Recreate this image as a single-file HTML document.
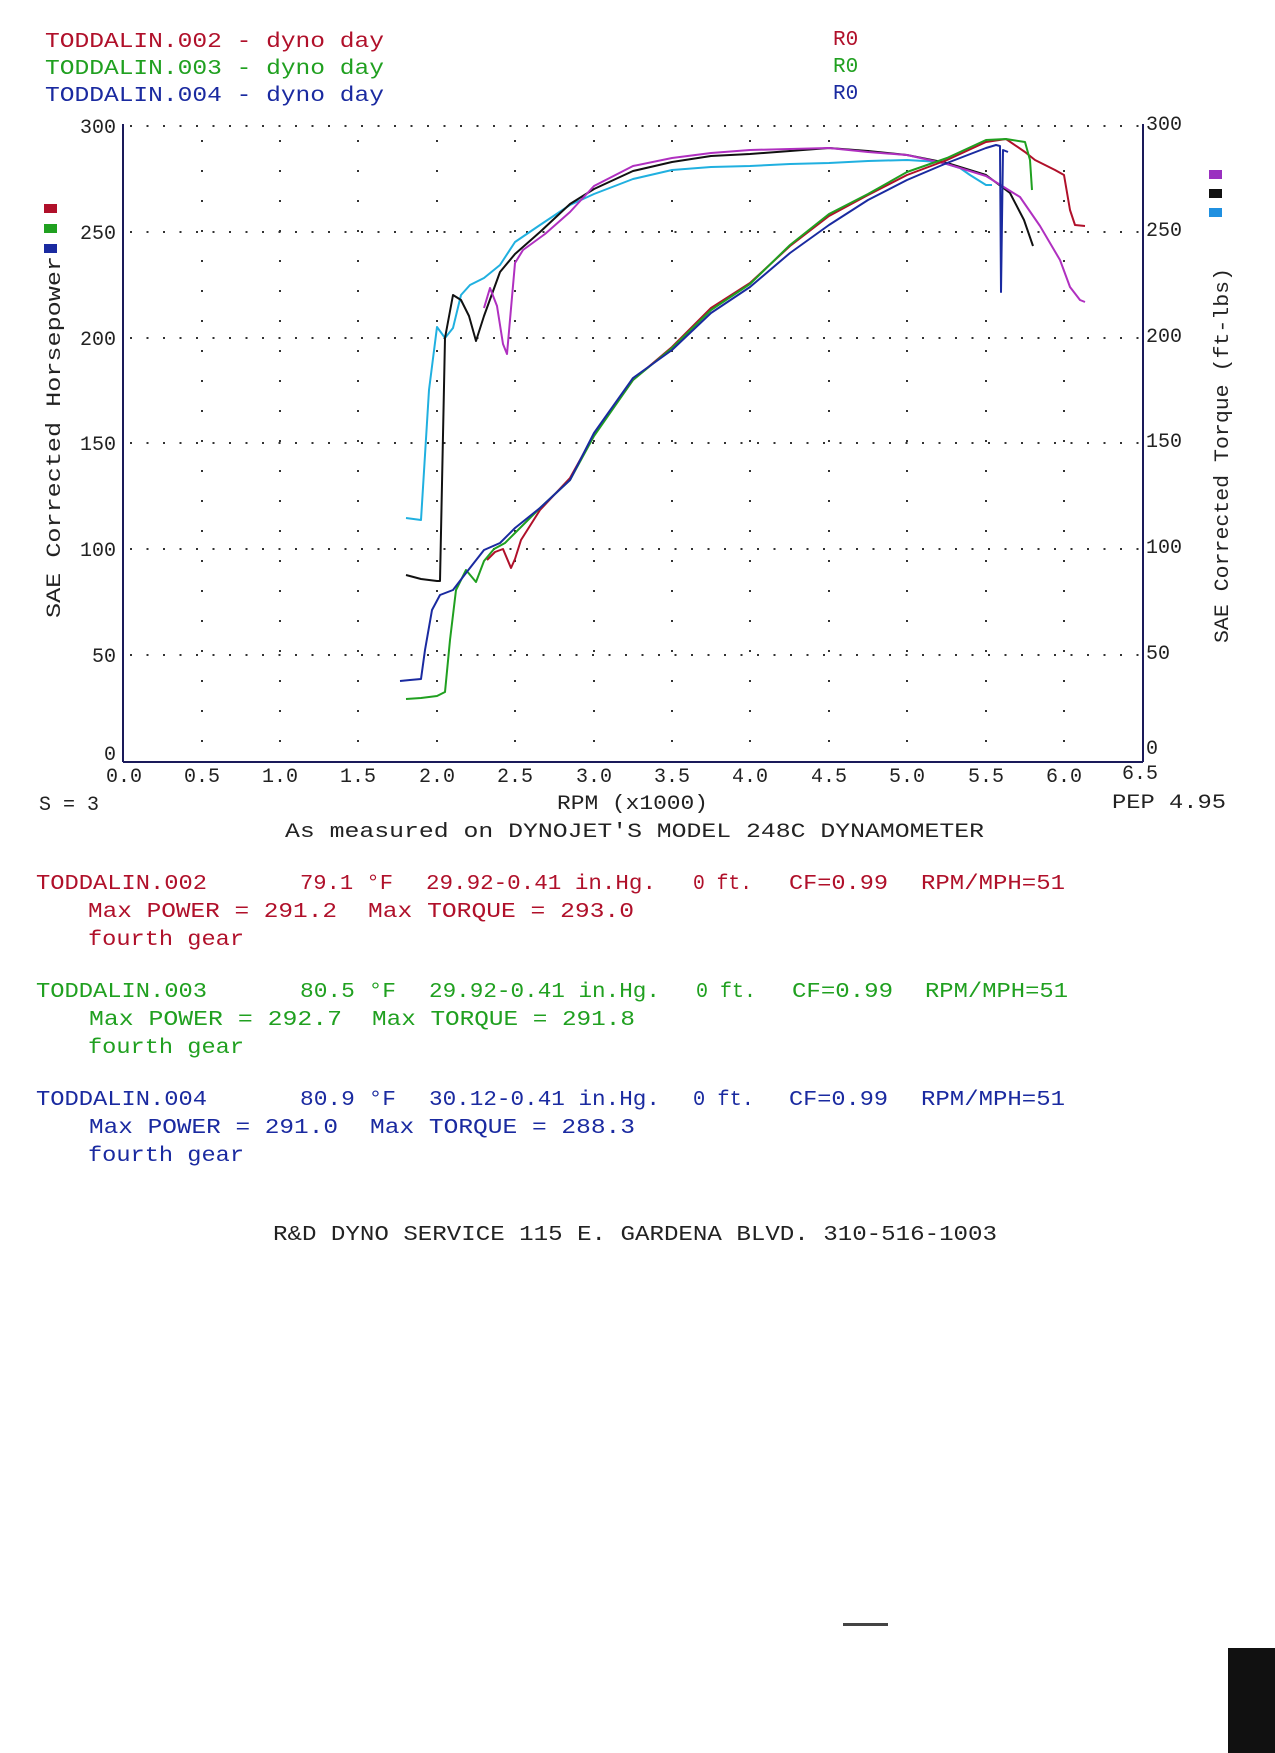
<!DOCTYPE html>
<html><head><meta charset="utf-8"><style>
html,body{margin:0;padding:0;background:#fff;}
svg{display:block;font-family:"Liberation Mono",monospace;}
svg text{white-space:pre;}
</style></head><body>
<svg width="1275" height="1753" viewBox="0 0 1275 1753" xmlns="http://www.w3.org/2000/svg">
<rect width="1275" height="1753" fill="#fff"/>
<g font-size="21">
<text x="45" y="47" fill="#b0102a" textLength="339" lengthAdjust="spacingAndGlyphs">TODDALIN.002 - dyno day</text>
<text x="45" y="74" fill="#20a020" textLength="339" lengthAdjust="spacingAndGlyphs">TODDALIN.003 - dyno day</text>
<text x="45" y="101" fill="#1a2aa0" textLength="339" lengthAdjust="spacingAndGlyphs">TODDALIN.004 - dyno day</text>
<text x="833" y="45" fill="#b0102a">R0</text>
<text x="833" y="72" fill="#20a020">R0</text>
<text x="833" y="99" fill="#1a2aa0">R0</text>
</g>
<g stroke="#333" stroke-width="2" stroke-dasharray="2 14.5" fill="none">
<line x1="130" y1="126" x2="1140" y2="126"/>
<line x1="130" y1="232" x2="1140" y2="232"/>
<line x1="130" y1="338" x2="1140" y2="338"/>
<line x1="130" y1="443" x2="1140" y2="443"/>
<line x1="130" y1="549" x2="1140" y2="549"/>
<line x1="130" y1="655" x2="1140" y2="655"/>
</g>
<g stroke="#333" stroke-width="2" stroke-dasharray="2 28" fill="none">
<line x1="202" y1="140" x2="202" y2="755"/>
<line x1="280" y1="140" x2="280" y2="755"/>
<line x1="358" y1="140" x2="358" y2="755"/>
<line x1="437" y1="140" x2="437" y2="755"/>
<line x1="515" y1="140" x2="515" y2="755"/>
<line x1="594" y1="140" x2="594" y2="755"/>
<line x1="672" y1="140" x2="672" y2="755"/>
<line x1="750" y1="140" x2="750" y2="755"/>
<line x1="829" y1="140" x2="829" y2="755"/>
<line x1="907" y1="140" x2="907" y2="755"/>
<line x1="986" y1="140" x2="986" y2="755"/>
<line x1="1064" y1="140" x2="1064" y2="755"/>
</g>
<g stroke="#1a1a5a" stroke-width="2" fill="none">
<line x1="123" y1="124" x2="123" y2="762"/>
<line x1="123" y1="762" x2="1143" y2="762"/>
<line x1="1143" y1="124" x2="1143" y2="762"/>
</g>
<g font-size="20" fill="#222">
<text x="116" y="133" text-anchor="end">300</text>
<text x="116" y="239" text-anchor="end">250</text>
<text x="116" y="345" text-anchor="end">200</text>
<text x="116" y="450" text-anchor="end">150</text>
<text x="116" y="556" text-anchor="end">100</text>
<text x="116" y="662" text-anchor="end">50</text>
<text x="116" y="760" text-anchor="end">0</text>
<text x="1146" y="130">300</text>
<text x="1146" y="236">250</text>
<text x="1146" y="342">200</text>
<text x="1146" y="447">150</text>
<text x="1146" y="553">100</text>
<text x="1146" y="659">50</text>
<text x="1146" y="754">0</text>
<g text-anchor="middle">
<text x="124" y="782">0.0</text><text x="202" y="782">0.5</text><text x="280" y="782">1.0</text>
<text x="358" y="782">1.5</text><text x="437" y="782">2.0</text><text x="515" y="782">2.5</text>
<text x="594" y="782">3.0</text><text x="672" y="782">3.5</text><text x="750" y="782">4.0</text>
<text x="829" y="782">4.5</text><text x="907" y="782">5.0</text><text x="986" y="782">5.5</text>
<text x="1064" y="782">6.0</text><text x="1140" y="779">6.5</text>
</g>
<text x="39" y="810">S = 3</text>
<text x="557" y="809" textLength="151" lengthAdjust="spacingAndGlyphs">RPM (x1000)</text>
<text x="1112" y="808" textLength="114" lengthAdjust="spacingAndGlyphs">PEP 4.95</text>
<text x="285" y="837" textLength="699" lengthAdjust="spacingAndGlyphs">As measured on DYNOJET'S MODEL 248C DYNAMOMETER</text>
<text transform="translate(60,618) rotate(-90)" textLength="362" lengthAdjust="spacingAndGlyphs">SAE Corrected Horsepower</text>
<text transform="translate(1228,643) rotate(-90)" textLength="375" lengthAdjust="spacingAndGlyphs">SAE Corrected Torque (ft-lbs)</text>
</g>
<rect x="44" y="204" width="13" height="9" fill="#b0102a"/>
<rect x="44" y="224" width="13" height="9" fill="#20a020"/>
<rect x="44" y="244" width="13" height="9" fill="#1a2aa0"/>
<rect x="1209" y="170" width="13" height="9" fill="#9a30c0"/>
<rect x="1209" y="189" width="13" height="9" fill="#111"/>
<rect x="1209" y="208" width="13" height="9" fill="#2090e0"/>
<g fill="none" stroke-width="2" stroke-linejoin="round">
<polyline stroke="#20b0e0" points="406,518 421,520 429,390 437,327 445,338 453,328 461,295 470,285 484,278 500,265 515,242 540,225 570,205 594,194 633,179 672,170 711,167 750,166 790,164 829,163 868,161 907,160 940,162 960,168 970,175 986,185 992,185"/>
<polyline stroke="#111" points="406,575 421,579 437,581 440,581 445,338 453,295 461,300 469,316 476,341 484,316 500,272 515,254 540,232 570,204 594,189 633,171 672,162 711,156 750,154 790,151 829,148 868,151 907,155 947,163 986,175 1010,193 1024,220 1033,246"/>
<polyline stroke="#b030c0" points="484,308 490,288 497,306 503,344 507,354 515,263 523,250 545,234 570,212 594,186 633,166 672,158 711,153 750,150 790,149 829,148 868,152 907,155 947,164 986,176 1020,197 1040,226 1060,260 1070,287 1080,300 1085,302"/>
<polyline stroke="#b0102a" points="487,560 495,552 503,549 511,568 515,559 521,540 540,510 570,478 594,435 633,380 672,347 711,308 750,283 790,246 829,216 868,195 907,175 947,160 986,142 1006,139 1025,152 1035,160 1045,165 1055,170 1064,175 1070,210 1075,225 1085,226"/>
<polyline stroke="#20a020" points="406,699 421,698 437,696 445,692 450,640 456,590 466,570 476,582 484,561 494,549 505,543 515,533 540,508 570,480 594,436 633,380 672,348 711,310 750,284 790,245 829,214 868,194 907,172 947,158 986,140 1006,139 1025,142 1030,160 1032,190"/>
<polyline stroke="#1a2aa0" points="400,681 410,680 421,679 425,650 432,610 440,595 453,590 466,573 484,550 500,543 515,528 540,508 570,480 594,433 633,378 672,350 711,313 750,287 790,253 829,225 868,200 907,180 947,163 986,148 996,145 1000,146 1001,292 1003,150 1008,152"/>
</g>
<g font-size="21" lengthAdjust="spacingAndGlyphs">
<g fill="#b0102a">
<text x="36" y="889" textLength="171" lengthAdjust="spacingAndGlyphs">TODDALIN.002</text>
<text x="300" y="889" textLength="93" lengthAdjust="spacingAndGlyphs">79.1 °F</text>
<text x="426" y="889" textLength="230" lengthAdjust="spacingAndGlyphs">29.92-0.41 in.Hg.</text>
<text x="693" y="889" textLength="59" lengthAdjust="spacingAndGlyphs">0 ft.</text>
<text x="789" y="889" textLength="99" lengthAdjust="spacingAndGlyphs">CF=0.99</text>
<text x="921" y="889" textLength="144" lengthAdjust="spacingAndGlyphs">RPM/MPH=51</text>
<text x="88" y="917" textLength="249" lengthAdjust="spacingAndGlyphs">Max POWER = 291.2</text>
<text x="368" y="917" textLength="266" lengthAdjust="spacingAndGlyphs">Max TORQUE = 293.0</text>
<text x="88" y="945" textLength="156" lengthAdjust="spacingAndGlyphs">fourth gear</text>
</g>
<g fill="#20a020">
<text x="36" y="997" textLength="171" lengthAdjust="spacingAndGlyphs">TODDALIN.003</text>
<text x="300" y="997" textLength="96" lengthAdjust="spacingAndGlyphs">80.5 °F</text>
<text x="429" y="997" textLength="231" lengthAdjust="spacingAndGlyphs">29.92-0.41 in.Hg.</text>
<text x="696" y="997" textLength="60" lengthAdjust="spacingAndGlyphs">0 ft.</text>
<text x="792" y="997" textLength="101" lengthAdjust="spacingAndGlyphs">CF=0.99</text>
<text x="925" y="997" textLength="143" lengthAdjust="spacingAndGlyphs">RPM/MPH=51</text>
<text x="89" y="1025" textLength="253" lengthAdjust="spacingAndGlyphs">Max POWER = 292.7</text>
<text x="372" y="1025" textLength="263" lengthAdjust="spacingAndGlyphs">Max TORQUE = 291.8</text>
<text x="88" y="1053" textLength="156" lengthAdjust="spacingAndGlyphs">fourth gear</text>
</g>
<g fill="#1a2aa0">
<text x="36" y="1105" textLength="171" lengthAdjust="spacingAndGlyphs">TODDALIN.004</text>
<text x="300" y="1105" textLength="96" lengthAdjust="spacingAndGlyphs">80.9 °F</text>
<text x="429" y="1105" textLength="231" lengthAdjust="spacingAndGlyphs">30.12-0.41 in.Hg.</text>
<text x="693" y="1105" textLength="61" lengthAdjust="spacingAndGlyphs">0 ft.</text>
<text x="789" y="1105" textLength="99" lengthAdjust="spacingAndGlyphs">CF=0.99</text>
<text x="921" y="1105" textLength="144" lengthAdjust="spacingAndGlyphs">RPM/MPH=51</text>
<text x="89" y="1133" textLength="249" lengthAdjust="spacingAndGlyphs">Max POWER = 291.0</text>
<text x="370" y="1133" textLength="265" lengthAdjust="spacingAndGlyphs">Max TORQUE = 288.3</text>
<text x="88" y="1161" textLength="156" lengthAdjust="spacingAndGlyphs">fourth gear</text>
</g>
<text x="273" y="1240" fill="#222" textLength="724" lengthAdjust="spacingAndGlyphs">R&amp;D DYNO SERVICE 115 E. GARDENA BLVD. 310-516-1003</text>
</g>
<rect x="1228" y="1648" width="47" height="105" fill="#111"/>
<rect x="843" y="1623" width="45" height="3" fill="#444"/>
</svg>
</body></html>
